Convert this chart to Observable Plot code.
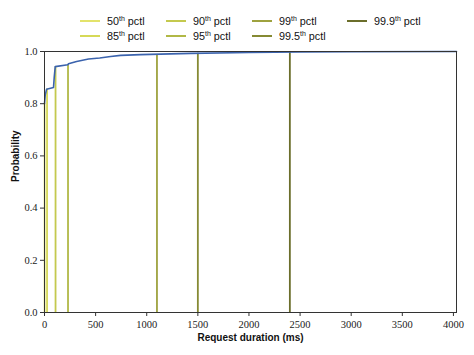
<!DOCTYPE html>
<html>
<head>
<meta charset="utf-8">
<script src="https://cdn.jsdelivr.net/npm/d3@7"></script>
<script src="https://cdn.jsdelivr.net/npm/@observablehq/plot@0.6"></script>
<style>
  body { margin: 0; background: #fff; width: 474px; height: 355px; overflow: hidden; }
  #legend { position: relative; height: 45px; font-family: "Liberation Sans", sans-serif; font-size: 10.8px; color: #111; }
  .item { position: absolute; display: flex; align-items: center; white-space: nowrap; }
  .sw { width: 20px; height: 0; border-top: 2px solid; margin-right: 7px; }
  sup { font-size: 7px; vertical-align: 4px; line-height: 0; }
  svg { display: block; }
</style>
</head>
<body>
<div id="legend"></div>
<div id="chart"></div>
<script>
// CDF curve
const durationMs = [0, 7, 20, 88, 95, 105, 228, 235, 314, 431, 540, 647, 745, 941, 1431, 2000, 2500, 3000, 4030];
const probability = [0.80, 0.833, 0.855, 0.862, 0.90, 0.942, 0.949, 0.953, 0.962, 0.971, 0.975, 0.981, 0.985, 0.988, 0.993, 0.996, 0.998, 0.999, 1.0];

// percentile markers
const pctlNames = ["50", "85", "90", "95", "99", "99.5", "99.9"];
const pctlMs = [1, 25, 108, 230, 1100, 1500, 2400];
const pctlTop = [0.80, 0.856, 0.942, 0.95, 0.988, 0.993, 0.998];
const pctlColors = ["#e3e36b", "#d6d957", "#c4c94e", "#b1b846", "#9ea23f", "#868a33", "#6b6e2b"];

const xTicks = [0, 500, 1000, 1500, 2000, 2500, 3000, 3500, 4000];
const yTicks = [0, 0.2, 0.4, 0.6, 0.8, 1.0];

const curve = durationMs.map((d, i) => ({ms: d, p: probability[i]}));
const pctls = pctlNames.map((n, i) => ({name: n, ms: pctlMs[i], top: pctlTop[i], color: pctlColors[i]}));

// legend (4 columns, column-major)
const legend = document.getElementById("legend");
const colX = [80, 166, 252, 347];
const rowY = [22, 37];
pctls.forEach((d, i) => {
  const col = Math.floor(i / 2), row = i % 2;
  const el = document.createElement("div");
  el.className = "item";
  el.style.left = colX[col] + "px";
  el.style.top = (rowY[row] - 7) + "px";
  el.innerHTML = `<span class="sw" style="border-color:${d.color}"></span><span>${d.name}<sup>th</sup> pctl</span>`;
  legend.appendChild(el);
});

const serif = "Liberation Serif, serif";
const sans = "Liberation Sans, sans-serif";
const chart = Plot.plot({
  width: 474,
  height: 310,
  marginTop: 6,
  marginBottom: 43,
  marginLeft: 44,
  marginRight: 18,
  style: { fontFamily: serif, fontSize: "10px", color: "#222", background: "white" },
  x: { domain: [0, 4030], label: null },
  y: { domain: [0, 1.0], label: null },
  marks: [
    Plot.ruleX(pctls, { x: "ms", y1: 0, y2: "top", stroke: "color", strokeWidth: 1.8 }),
    Plot.line(curve, { x: "ms", y: "p", stroke: "#3b63ad", strokeWidth: 1.6, curve: "linear" }),
    Plot.frame({ stroke: "#333", strokeWidth: 1 }),
    Plot.axisX({ ticks: xTicks, tickFormat: d => String(d), label: null, tickSize: 4, stroke: "#333", tickPadding: 4, fontFamily: serif, fontSize: 10.5 }),
    Plot.axisY({ ticks: yTicks, tickFormat: d3.format(".1f"), label: null, tickSize: 4, stroke: "#333", tickPadding: 3, fontFamily: serif, fontSize: 10.5 }),
    Plot.text(["Request duration (ms)"], { frameAnchor: "bottom", dy: 28, fontFamily: sans, fontWeight: "bold", fontSize: 10, fill: "#111" }),
    Plot.text(["Probability"], { frameAnchor: "left", dx: -29, rotate: -90, fontFamily: sans, fontWeight: "bold", fontSize: 10, fill: "#111" })
  ]
});
document.getElementById("chart").appendChild(chart);
</script>
</body>
</html>
